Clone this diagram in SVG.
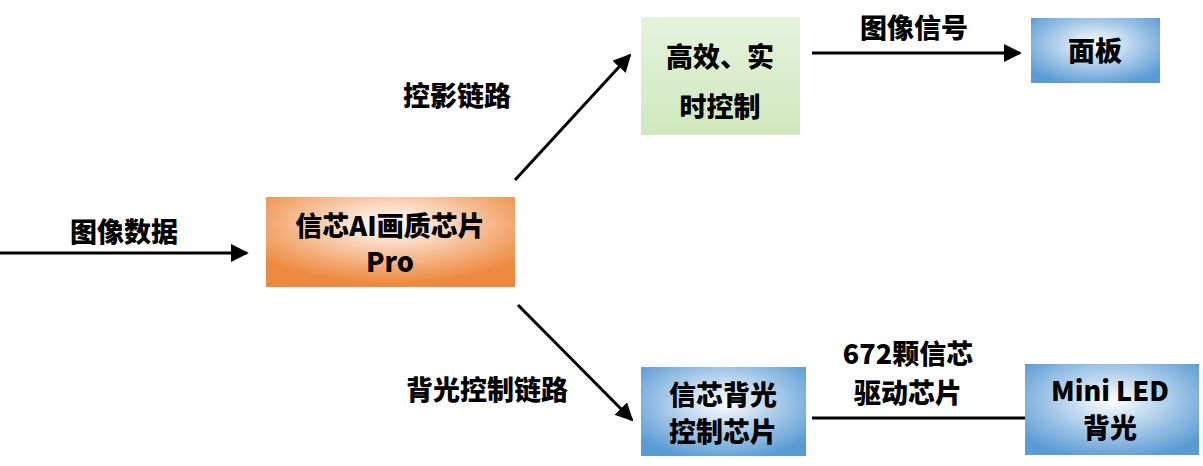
<svg xmlns="http://www.w3.org/2000/svg" width="1203" height="466" viewBox="0 0 1203 466">
<style>
text{font-family:"Noto Sans CJK SC","Liberation Sans",sans-serif;font-weight:900;font-size:27px;fill:#000;text-anchor:middle}
.c{stroke:#000;stroke-width:3;fill:none;marker-end:url(#a)}
</style>
<defs>
<marker id="a" viewBox="0 0 10 10" refX="9" refY="5" markerWidth="6" markerHeight="6" orient="auto" markerUnits="strokeWidth"><path d="M0,0 L10,5 L0,10 z" fill="#000"/></marker>
<radialGradient id="o" cx="50%" cy="30%" r="65%"><stop offset="0" stop-color="#fff"/><stop offset="1" stop-color="#ee8a40"/></radialGradient>
<radialGradient id="b" cx="50%" cy="40%" r="65%"><stop offset="0" stop-color="#fff"/><stop offset="1" stop-color="#5b9bd5"/></radialGradient>
<linearGradient id="g" x1="0" y1="0" x2="0" y2="1"><stop offset="0" stop-color="#e6f3dc"/><stop offset="1" stop-color="#cfe7bd"/></linearGradient>
</defs>
<g id="connectors">
<line class="c" x1="0" y1="253" x2="247" y2="253"/>
<line class="c" x1="515" y1="180" x2="630" y2="55"/>
<line class="c" x1="518" y1="305" x2="632" y2="420"/>
<line class="c" x1="812" y1="53" x2="1020" y2="53"/>
<line stroke="#000" stroke-width="3" x1="812" y1="418" x2="1025" y2="418"/>
<text x="124" y="242">图像数据</text>
<text x="457" y="106">控影链路</text>
<text x="487" y="400">背光控制链路</text>
<text x="914" y="38">图像信号</text>
<text x="908" y="364">672颗信芯</text>
<text x="908" y="403">驱动芯片</text>
</g>
<g id="n1"><rect x="266" y="197" width="249" height="90" fill="url(#o)"/><text x="390" y="236">信芯AI画质芯片</text><text x="390" y="272">Pro</text></g>
<g id="n2"><rect x="641" y="17" width="159" height="118" fill="url(#g)"/><text x="720" y="67">高效、实</text><text x="720" y="117">时控制</text></g>
<g id="n3"><rect x="1031" y="18" width="129" height="65" fill="url(#b)"/><text x="1095" y="61">面板</text></g>
<g id="n4"><rect x="641" y="367" width="165" height="89" fill="url(#b)"/><text x="723" y="405">信芯背光</text><text x="723" y="442">控制芯片</text></g>
<g id="n5"><rect x="1025" y="364" width="174" height="91" fill="url(#b)"/><text x="1110" y="401">Mini LED</text><text x="1110" y="438">背光</text></g>
</svg>
